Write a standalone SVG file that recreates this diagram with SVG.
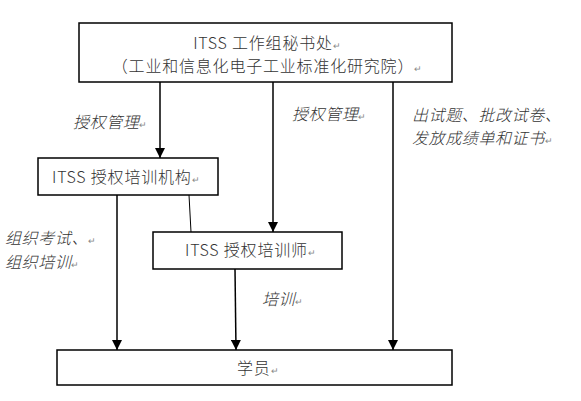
<svg xmlns="http://www.w3.org/2000/svg" width="581" height="401" viewBox="0 0 581 401">
<defs>
<marker id="arr" markerUnits="userSpaceOnUse" markerWidth="10" markerHeight="10" refX="10" refY="5" orient="auto">
<path d="M0,0 L10,5 L0,10 z" fill="#000"/>
</marker>
<style>
.box{fill:#fff;stroke:#000;stroke-width:1.5}
.t{font-family:"Noto Sans CJK SC","Noto Sans",sans-serif;font-size:16px;fill:#333;font-weight:300;letter-spacing:0.8px}
.l{font-family:"Noto Sans CJK SC","Noto Sans",sans-serif;font-size:16px;fill:#333;font-weight:300;font-style:italic;letter-spacing:0.6px}
.p{font-size:9px;fill:#888;font-style:normal;letter-spacing:0}
.c{stroke:#000;stroke-width:1.5;fill:none}
</style>
</defs>
<rect width="581" height="401" fill="#fff"/>
<g id="connectors">
<line class="c" x1="160" y1="82" x2="160" y2="158" marker-end="url(#arr)"/>
<line class="c" x1="273" y1="82" x2="273" y2="232" marker-end="url(#arr)"/>
<line class="c" x1="393" y1="82" x2="393" y2="350" marker-end="url(#arr)"/>
<line class="c" x1="117" y1="195" x2="117" y2="350" marker-end="url(#arr)"/>
<line class="c" x1="235" y1="269" x2="236" y2="350" marker-end="url(#arr)"/>
<line x1="189" y1="195" x2="191" y2="232" stroke="#000" stroke-width="1"/>
</g>
<g id="secretariat">
<rect class="box" x="79" y="23" width="373" height="59"/>
<text class="t" x="267" y="49" text-anchor="middle">ITSS 工作组秘书处<tspan class="p">↵</tspan></text>
<text class="t" x="267" y="72" text-anchor="middle" letter-spacing="1.5">（工业和信息化电子工业标准化研究院）<tspan class="p">↵</tspan></text>
</g>
<g id="institution">
<rect class="box" x="38" y="158" width="180" height="37"/>
<text class="t" x="52" y="183">ITSS 授权培训机构<tspan class="p">↵</tspan></text>
</g>
<g id="trainer">
<rect class="box" x="153" y="232" width="189" height="37"/>
<text class="t" x="185" y="256">ITSS 授权培训师<tspan class="p">↵</tspan></text>
</g>
<g id="student">
<rect class="box" x="57" y="350" width="395" height="35"/>
<text class="t" x="237" y="374">学员<tspan class="p">↵</tspan></text>
</g>
<g id="labels">
<text class="l" x="73" y="128">授权管理<tspan class="p">↵</tspan></text>
<text class="l" x="292" y="120">授权管理<tspan class="p">↵</tspan></text>
<text class="l" x="412" y="121">出试题、批改试卷、</text>
<text class="l" x="412" y="144">发放成绩单和证书<tspan class="p">↵</tspan></text>
<text class="l" x="5" y="244">组织考试、<tspan class="p">↵</tspan></text>
<text class="l" x="5" y="268">组织培训<tspan class="p">↵</tspan></text>
<text class="l" x="262" y="305">培训<tspan class="p">↵</tspan></text>
</g>
</svg>
